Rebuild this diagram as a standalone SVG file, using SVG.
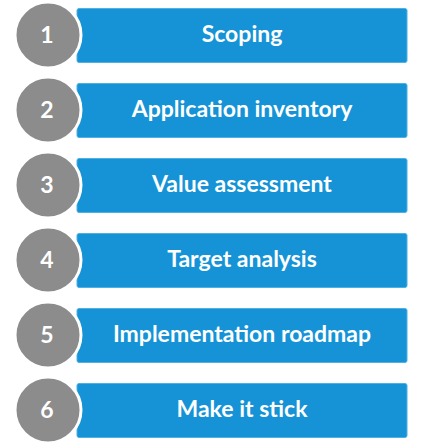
<svg xmlns="http://www.w3.org/2000/svg" width="425" height="448" viewBox="0 0 425 448">
<style>
.bar{fill:#1593d6;stroke:#4fb0e3;stroke-width:1}
.num{fill:#8c8c8c;stroke:#ffffff;stroke-width:3}
.t{font-family:Lato,"Open Sans",sans-serif;font-weight:bold;font-size:23px;fill:#ffffff;text-anchor:middle}
.n{font-family:Lato,"Open Sans",sans-serif;font-weight:bold;font-size:23px;fill:#ffffff;text-anchor:middle}
</style>
<rect width="425" height="448" fill="#ffffff"/>
<g id="step1"><rect class="bar" x="77" y="8.5" width="330" height="54" rx="2"/><circle class="num" cx="48" cy="35" r="33"/><text class="n" x="47" y="43">1</text><text class="t" x="242" y="41.5">Scoping</text></g>
<g id="step2"><rect class="bar" x="77" y="83.5" width="330" height="54" rx="2"/><circle class="num" cx="48" cy="110" r="33"/><text class="n" x="47" y="118">2</text><text class="t" x="242" y="116.5">Application inventory</text></g>
<g id="step3"><rect class="bar" x="77" y="158.5" width="330" height="54" rx="2"/><circle class="num" cx="48" cy="185" r="33"/><text class="n" x="47" y="193">3</text><text class="t" x="242" y="191.5">Value assessment</text></g>
<g id="step4"><rect class="bar" x="77" y="233.5" width="330" height="54" rx="2"/><circle class="num" cx="48" cy="260" r="33"/><text class="n" x="47" y="268">4</text><text class="t" x="242" y="266.5">Target analysis</text></g>
<g id="step5"><rect class="bar" x="77" y="308.5" width="330" height="54" rx="2"/><circle class="num" cx="48" cy="335" r="33"/><text class="n" x="47" y="343">5</text><text class="t" x="242" y="341.5">Implementation roadmap</text></g>
<g id="step6"><rect class="bar" x="77" y="383.5" width="330" height="54" rx="2"/><circle class="num" cx="48" cy="410" r="33"/><text class="n" x="47" y="418">6</text><text class="t" x="242" y="416.5">Make it stick</text></g>
</svg>
